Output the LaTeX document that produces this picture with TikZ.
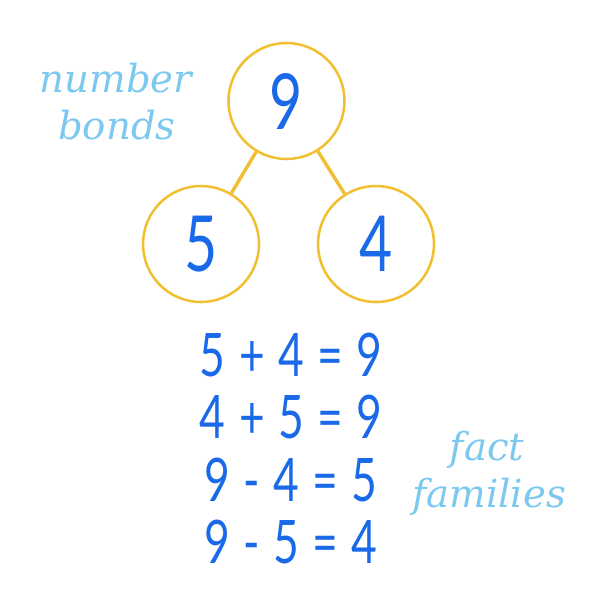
\documentclass[tikz,border=0pt]{standalone}
\usepackage{fontspec}
\setmainfont{Lato}
\newfontfamily\scriptlabel{DejaVu Serif}
\definecolor{numblue}{RGB}{25,105,232}
\definecolor{labelblue}{RGB}{125,200,240}
\definecolor{bondgold}{RGB}{240,192,50}
\newcommand{\opgap}{\hspace{0.3em}}
\newcommand{\narrowtext}[1]{\scalebox{0.74}[1]{#1}}
\begin{document}
\begin{tikzpicture}[x=0.75pt,y=-0.75pt,
  bond/.style={circle,draw=bondgold,line width=1.9pt,minimum size=87pt,inner sep=0pt,
    text=numblue,font=\fontsize{58}{58}\selectfont},
  link/.style={draw=bondgold,line width=2.6pt},
  eqn/.style={text=numblue,font=\fontsize{45}{45}\selectfont,anchor=center},
  scriptlbl/.style={text=labelblue,font=\scriptlabel\itshape\fontsize{29}{29}\selectfont,align=center}]
\useasboundingbox (0,0) rectangle (600,600);
\node[bond] (top) at (286.5,101) {\narrowtext{9}};
\node[bond] (left) at (201,244) {\narrowtext{5}};
\node[bond] (right) at (376,244) {\narrowtext{4}};
\draw[link] (top) -- (left);
\draw[link] (top) -- (right);
\node[eqn] (e1) at (291,355) {\narrowtext{5\opgap+\opgap4\opgap=\opgap9}};
\node[eqn] (e2) at (291,417) {\narrowtext{4\opgap+\opgap5\opgap=\opgap9}};
\node[eqn] (e3) at (291,480) {\narrowtext{9\opgap-\opgap4\opgap=\opgap5}};
\node[eqn] (e4) at (291,542) {\narrowtext{9\opgap-\opgap5\opgap=\opgap4}};
\node[scriptlbl] (nb1) at (116,78) {number};
\node[scriptlbl] (nb2) at (117,125) {bonds};
\node[scriptlbl] (ff1) at (487,450) {fact};
\node[scriptlbl] (ff2) at (489,497) {families};
\end{tikzpicture}
\end{document}
